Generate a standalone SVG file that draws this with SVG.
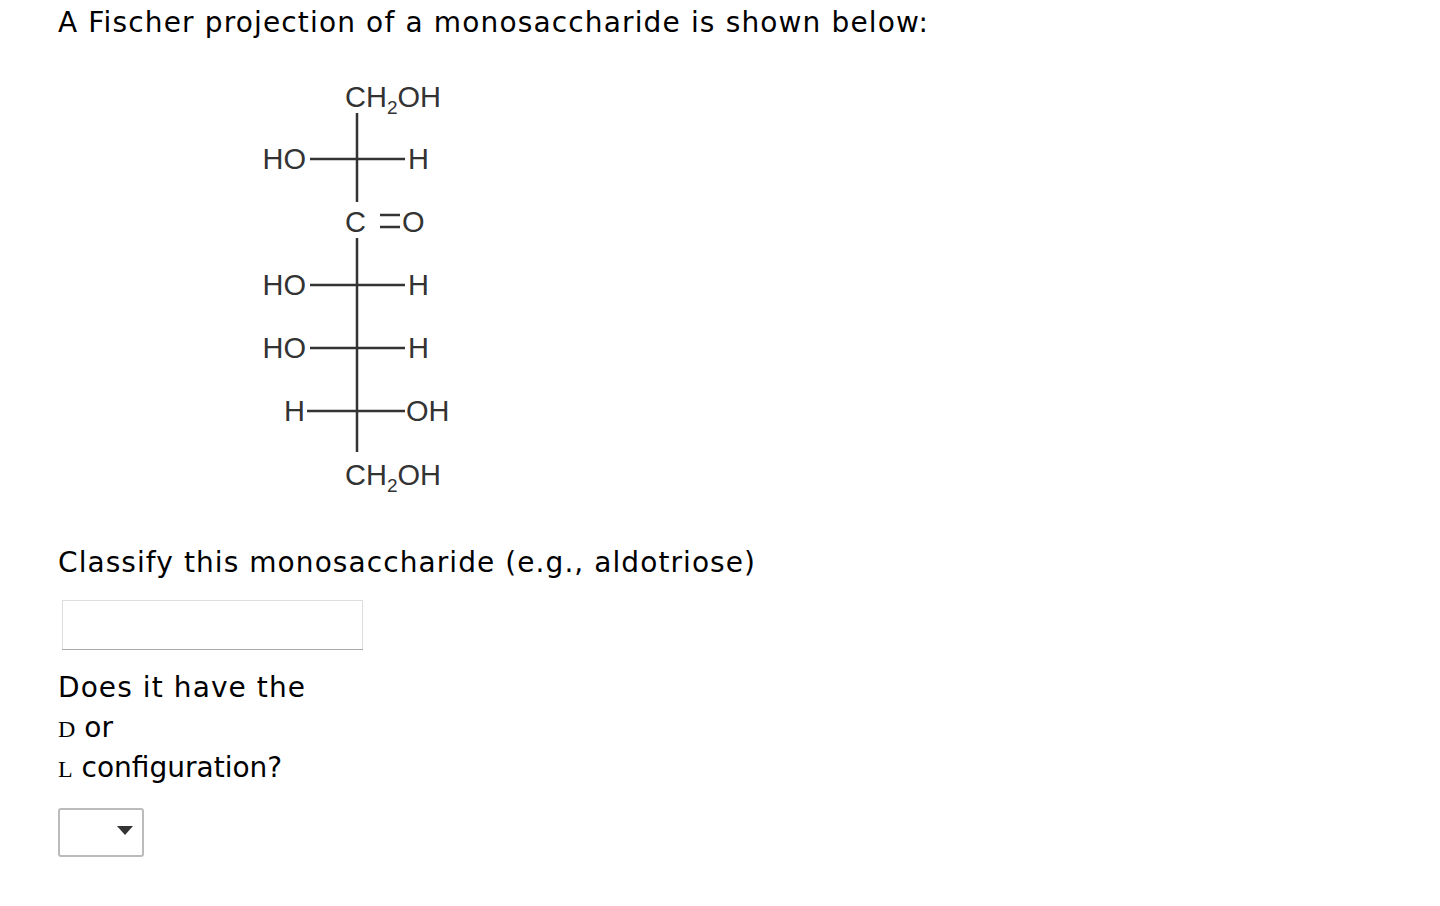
<svg xmlns="http://www.w3.org/2000/svg" width="1440" height="906" viewBox="0 0 1440 906">
<style>
.q{font-family:"DejaVu Sans",Verdana,sans-serif;font-size:28px;fill:#000}
.c{font-family:"Liberation Sans",Arial,sans-serif;font-size:29px;fill:#333}
.s{font-size:19px}
.b{stroke:#333;stroke-width:2.5;fill:none}
.sc{font-family:"Liberation Serif",serif;font-size:24px}
</style>
<rect width="1440" height="906" fill="#fff"/>
<text class="q" x="58" y="32" textLength="870">A Fischer projection of a monosaccharide is shown below:</text>
<g id="connectors">
<path class="b" d="M357 113V202M357 238V452M310 159H405M310 285H405M310 348H405M307 411H405M380 215H400M380 227H400"/>
</g>
<g id="molecule">
<text class="c" x="345" y="107">CH<tspan class="s" dy="7">2</tspan><tspan dy="-7">OH</tspan></text>
<text class="c" x="306" y="169" text-anchor="end">HO</text>
<text class="c" x="408" y="169">H</text>
<text class="c" x="345" y="232">C</text>
<text class="c" x="402" y="232">O</text>
<text class="c" x="306" y="295" text-anchor="end">HO</text>
<text class="c" x="408" y="295">H</text>
<text class="c" x="306" y="358" text-anchor="end">HO</text>
<text class="c" x="408" y="358">H</text>
<text class="c" x="305" y="421" text-anchor="end">H</text>
<text class="c" x="406" y="421">OH</text>
<text class="c" x="345" y="485">CH<tspan class="s" dy="7">2</tspan><tspan dy="-7">OH</tspan></text>
</g>
<text class="q" x="58" y="572" textLength="697">Classify this monosaccharide (e.g., aldotriose)</text>
<rect x="62.5" y="600.5" width="300" height="49" fill="#fff" stroke="#ddd"/>
<line x1="62" y1="649.5" x2="363" y2="649.5" stroke="#aaa"/>
<text class="q" x="58" y="697" textLength="247">Does it have the</text>
<text class="q" x="58" y="737"><tspan class="sc">D</tspan> or</text>
<text class="q" x="58" y="777"><tspan class="sc">L</tspan> configuration?</text>
<rect x="59" y="809" width="84" height="47" rx="2" fill="#fff" stroke="#bbb" stroke-width="2"/>
<path d="M117 826h16l-8 9z" fill="#333"/>
</svg>
